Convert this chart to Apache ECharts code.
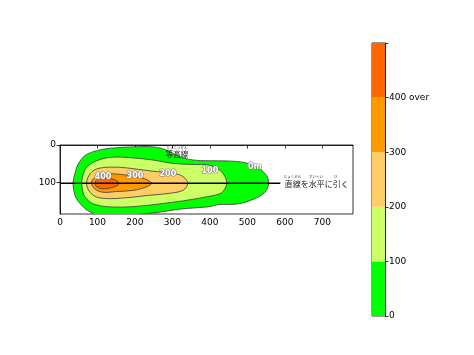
<!DOCTYPE html>
<html>
<head>
<meta charset="utf-8">
<script src="https://cdn.jsdelivr.net/npm/echarts@6/dist/echarts.min.js"></script>
<style>
  html, body { margin: 0; padding: 0; background: #fff; }
  #chart { width: 474px; height: 355px; }
</style>
</head>
<body>
<div id="chart"></div>
<script>
// contour levels and fill colours (colorbar)
const levels = [0, 100, 200, 300, 400, 500];
const levelColors = ['#00ff00', '#ccff66', '#ffcc66', '#ff9900', '#ff6600'];
const levelTicks = ['0', '100', '200', '300', '400 over'];

// contour outlines, [x, y] in image units
const c0 = [[35,99],[40,75],[49,50],[67,28],[98,15],[142,8],[200,5],[248,5],[283,13],[319,31],[355,40],[395,42],[458,43],[502,49],[533,64],[551,81],[557,102],[547,126],[520,143],[475,157],[422,159],[395,165],[328,170],[266,179],[195,186],[100,188],[80,178],[67,170],[44,143],[37,122]];
const c100 = [[58,99],[62,78],[71,59],[98,42],[133,33],[178,33],[248,40],[301,49],[355,52],[395,53],[422,64],[438,80],[445,102],[438,120],[427,130],[387,139],[328,149],[266,157],[200,164],[133,165],[89,157],[67,139],[60,120]];
const c200 = [[71,99],[80,77],[98,64],[133,59],[178,61],[248,70],[301,75],[328,84],[341,102],[328,121],[283,130],[239,134],[195,139],[133,143],[98,139],[80,126],[73,113]];
const c300 = [[84,99],[98,83],[124,77],[169,79],[200,84],[226,90],[244,102],[230,112],[195,121],[151,124],[115,126],[93,117]];
const c400 = [[93,102],[102,90],[124,88],[147,93],[158,102],[147,111],[115,117],[99,112]];
const contours = [c0, c100, c200, c300, c400];

// inline contour labels
const contourLabels = ['0m', '100', '200', '300', '400'];
const contourLabelAt = [[520,58],[400,69],[288,77],[200,82],[115,85]];

// the horizontal guide line
const guideLine = [[0,102],[588,102]];

const chart = echarts.init(document.getElementById('chart'));

const polySeries = contours.map((pts, i) => ({
  type: 'custom',
  xAxisIndex: 0,
  yAxisIndex: 0,
  clip: true,
  z: 2 + i,
  data: pts,
  renderItem: (params, api) => {
    if (params.dataIndex !== 0) return;
    return {
      type: 'polygon',
      shape: { points: pts.map(p => api.coord(p)), smooth: 0.35 },
      style: { fill: levelColors[i], stroke: '#3a3a3a', lineWidth: 0.8 }
    };
  }
}));

const font = 'DejaVu Sans';
const jp = '"Noto Sans CJK JP"';

// texts drawn at image coordinates
const noteSeries = {
  type: 'custom',
  xAxisIndex: 0,
  yAxisIndex: 0,
  clip: false,
  z: 20,
  data: [[0, 0]],
  renderItem: (params, api) => {
    const kids = [];
    contourLabels.forEach((t, i) => {
      const p = api.coord(contourLabelAt[i]);
      kids.push({
        type: 'text', x: p[0], y: p[1],
        style: { text: t, fill: '#fff', stroke: '#808080', lineWidth: 1.2,
          font: 'bold 8px ' + font, align: 'center', verticalAlign: 'middle' }
      });
    });
    const a = api.coord([600, 104]);
    kids.push({ type: 'text', x: a[0], y: a[1],
      style: { text: '直線を水平に引く', fill: '#222', font: '8px ' + jp, align: 'left', verticalAlign: 'middle' } });
    const rb = [['ちょくせん', 2], ['すいへい', 2], ['ひ', 1]];
    const starts = [0, 3, 6];
    rb.forEach((r, k) => {
      const cx = a[0] + (starts[k] + r[1] / 2) * 7.8;
      kids.push({ type: 'text', x: cx, y: a[1] - 7,
        style: { text: r[0], fill: '#333', font: '3.5px ' + jp, align: 'center', verticalAlign: 'middle' } });
    });
    const b = api.coord([312, 24]);
    kids.push({ type: 'text', x: b[0], y: b[1],
      style: { text: '等高線', fill: '#222', font: '7.5px ' + jp, align: 'center', verticalAlign: 'middle' } });
    kids.push({ type: 'text', x: b[0], y: b[1] - 6,
      style: { text: 'とうこうせん', fill: '#333', font: '3.5px ' + jp, align: 'center', verticalAlign: 'middle' } });
    return { type: 'group', children: kids };
  }
};

const cbSeries = levelColors.map((c, i) => ({
  type: 'bar',
  xAxisIndex: 1,
  yAxisIndex: 1,
  stack: 'cb',
  barWidth: '100%',
  data: [levels[i + 1] - levels[i]],
  itemStyle: { color: c },
  silent: true
}));

const option = {
  animation: false,
  backgroundColor: '#fff',
  grid: [
    { left: 60, top: 145, width: 293, height: 69, show: true, borderColor: '#000', borderWidth: 0.8, backgroundColor: 'transparent' },
    { left: 372, top: 43, width: 13, height: 273, show: true, borderColor: '#000', borderWidth: 0.8, backgroundColor: 'transparent' }
  ],
  xAxis: [
    {
      type: 'value', gridIndex: 0, min: 0, max: 782, interval: 100,
      splitLine: { show: false },
      axisLine: { show: true, lineStyle: { color: '#000', width: 0.8 } },
      axisTick: { show: true, length: 3.5, lineStyle: { color: '#000', width: 0.8 } },
      axisLabel: { color: '#000', fontFamily: font, fontSize: 9, margin: 4, showMaxLabel: false }
    },
    { type: 'category', gridIndex: 1, data: ['cb'], show: false }
  ],
  yAxis: [
    {
      type: 'value', gridIndex: 0, min: 0, max: 184, interval: 100, inverse: true,
      splitLine: { show: false },
      axisLine: { show: true, lineStyle: { color: '#000', width: 0.8 } },
      axisTick: { show: true, length: 3.5, lineStyle: { color: '#000', width: 0.8 } },
      axisLabel: { color: '#000', fontFamily: font, fontSize: 9, margin: 4, showMaxLabel: false }
    },
    {
      type: 'value', gridIndex: 1, min: 0, max: 500, interval: 100, position: 'right',
      splitLine: { show: false },
      axisLine: { show: true, lineStyle: { color: '#000', width: 0.8 } },
      axisTick: { show: true, length: 3.5, lineStyle: { color: '#000', width: 0.8 } },
      axisLabel: {
        color: '#000', fontFamily: font, fontSize: 9, margin: 4,
        formatter: v => (levels.indexOf(v) < levelTicks.length ? levelTicks[levels.indexOf(v)] : '')
      }
    }
  ],
  series: [
    ...polySeries,
    {
      type: 'line',
      xAxisIndex: 0,
      yAxisIndex: 0,
      data: guideLine,
      symbol: 'none',
      z: 15,
      lineStyle: { color: '#000', width: 1.4 }
    },
    noteSeries,
    ...cbSeries
  ]
};

chart.setOption(option);
</script>
</body>
</html>
